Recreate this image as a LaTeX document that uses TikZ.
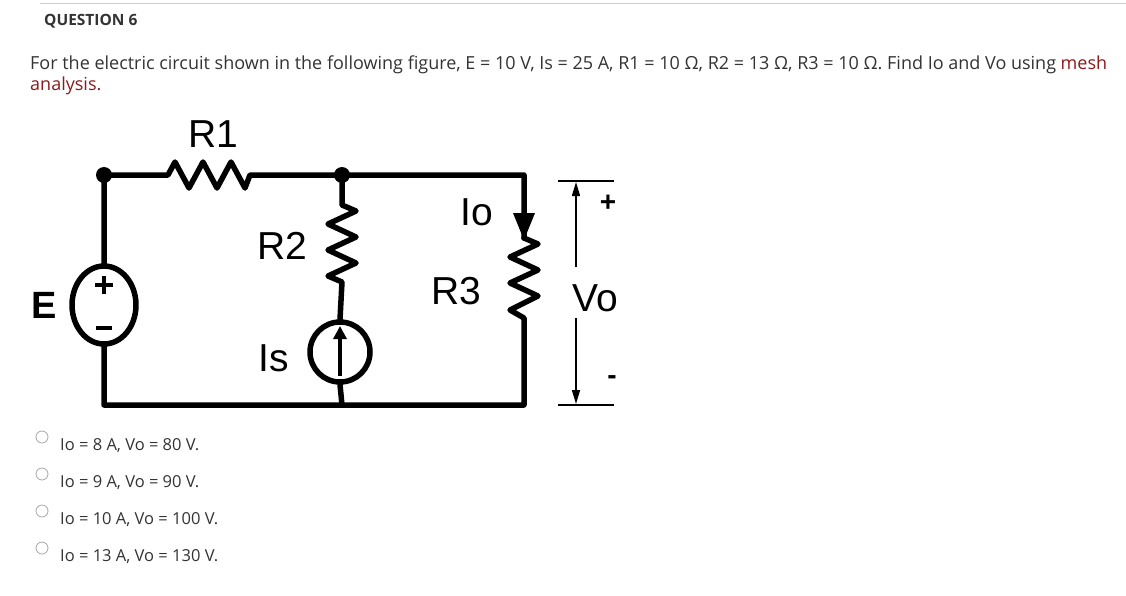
\documentclass[tikz,border=0pt]{standalone}
\usepackage{fontspec}
\setmainfont{Open Sans}
\newfontfamily\arialf{Liberation Sans}
\usetikzlibrary{arrows.meta,shapes.geometric}
\definecolor{linkred}{HTML}{8B1A1A}
\definecolor{txt}{HTML}{333333}
\tikzset{
  wire/.style={line width=5.5pt,line cap=round,line join=round},
  lbl/.style={font=\arialf\fontsize{39}{39}\selectfont,inner sep=0pt},
  radio/.style={draw=gray!70,line width=0.8pt},
  opt/.style={anchor=west,font=\fontsize{16.5}{19}\selectfont,text=txt,inner sep=0pt},
}
\begin{document}
\begin{tikzpicture}[x=1pt,y=-1pt]
\useasboundingbox (0,0) rectangle (1126,595);
\draw[gray!40,line width=1pt] (40,3) -- (1126,3);
\node[anchor=west,font=\bfseries\fontsize{15.5}{18}\selectfont,text=txt,inner sep=0pt] (q) at (44,21) {QUESTION 6};
\node[anchor=west,font=\fontsize{18}{20}\selectfont,text=txt,inner sep=0pt] (l1) at (30,65) {For the electric circuit shown in the following figure, E = 10 V, Is = 25 A, R1 = 10 Ω, R2 = 13 Ω, R3 = 10 Ω. Find Io and Vo using \textcolor{linkred}{mesh}};
\node[anchor=west,font=\fontsize{18}{20}\selectfont,text=linkred,inner sep=0pt] (l2) at (30,86) {analysis.};

% circuit coordinates
\coordinate (tl) at (104,175);
\coordinate (tm) at (342,175);
\coordinate (tr) at (524,175);
\coordinate (bl) at (104,405);
\coordinate (bm) at (342,405);
\coordinate (br) at (524,405);
\node[draw,wire,ellipse,minimum width=64pt,minimum height=78pt,inner sep=0pt] (E) at (104,305) {};
\node[draw,wire,circle,minimum size=60pt,inner sep=0pt] (Is) at (340,352) {};
\coordinate (r1a) at (168,175); \coordinate (r1b) at (250,175);
\coordinate (r2a) at (342,205); \coordinate (r2b) at (342,282);
\coordinate (r3a) at (524,238); \coordinate (r3b) at (524,318);

\draw[wire] (E.north) -- (tl) -- (r1a) -- ++(7,-13) -- ++(14,26) -- ++(14,-26) -- ++(14,26) -- ++(14,-26) -- ++(14,26) -- (r1b) -- (tm) -- (tr) -- (r3a);
\draw[wire] (tm) -- (r2a) -- ++(14,6) -- ++(-28,13) -- ++(28,13) -- ++(-28,13) -- ++(28,13) -- ++(-28,13) -- (r2b) -- (Is.north);
\draw[wire] (r3a) -- ++(14,6) -- ++(-28,13) -- ++(28,13) -- ++(-28,13) -- ++(28,13) -- ++(-28,14) -- (r3b) -- (br) -- (bm) -- (bl) -- (E.south);
\draw[wire] (Is.south) -- (bm);
\fill (tl) circle (8pt);
\fill (tm) circle (8pt);
% Io arrow
\fill (513,213) -- (535,213) -- (524,240) -- cycle;
% source marks
\draw[line width=4.5pt] (104,276) -- (104,294) (95,285) -- (113,285);
\draw[line width=4.5pt] (96,328) -- (112,328);
\draw[line width=3.5pt,-{Triangle[length=13pt,width=13pt]}] (340,376) -- (340,326);
% Vo bracket
\draw[line width=1.5pt] (558,181) -- (614,181) (558,405) -- (614,405);
\draw[line width=1.5pt,-{Triangle[length=14pt,width=8pt]}] (576,267) -- (576,182);
\draw[line width=1.5pt,-{Triangle[length=14pt,width=8pt]}] (576,318) -- (576,404);
% labels
\node[lbl] (tR1) at (213,134) {R1};
\node[lbl] (tR2) at (282,246) {R2};
\node[lbl] (tIo) at (477,212) {Io};
\node[lbl] (tR3) at (456,291) {R3};
\node[lbl] (tIs) at (274,358) {Is};
\node[lbl] (tVo) at (595,298) {Vo};
\node[font=\arialf\bfseries\fontsize{38}{38}\selectfont,inner sep=0pt] (tE) at (44,305) {E};
\node[font=\arialf\bfseries\fontsize{28}{28}\selectfont,inner sep=0pt] (tp) at (608,203) {+};
\node[font=\arialf\bfseries\fontsize{28}{28}\selectfont,inner sep=0pt] (tm2) at (612,380) {-};
% options
\foreach \yy/\t [count=\i] in {437/{Io = 8 A, Vo = 80 V.},474/{Io = 9 A, Vo = 90 V.},511/{Io = 10 A, Vo = 100 V.},548/{Io = 13 A, Vo = 130 V.}}{
  \draw[radio] (42,\yy) circle (6pt);
  \node[opt] (o\i) at (60,\yy+9) {\t};
}
\end{tikzpicture}
\end{document}
